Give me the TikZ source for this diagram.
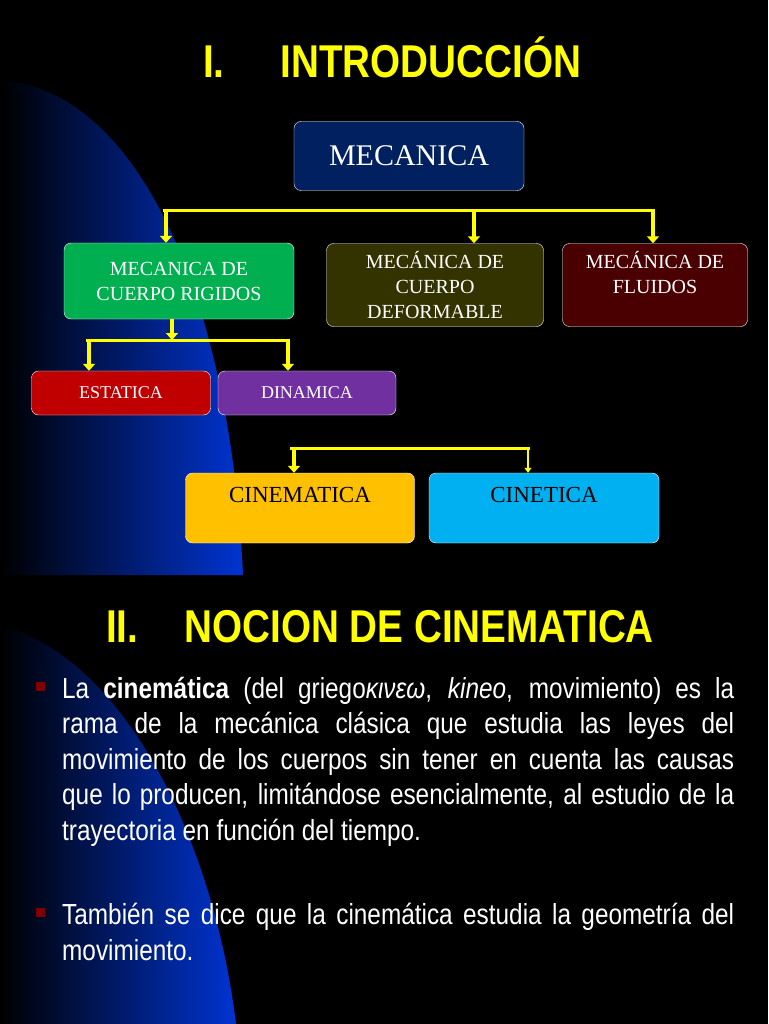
\documentclass[tikz,border=0pt]{standalone}
\usepackage{fontspec}
\setmainfont{Liberation Serif}
\newfontfamily\narrowsans[FakeStretch=0.84]{Liberation Sans}
\usetikzlibrary{arrows.meta,positioning}
\definecolor{titleyellow}{RGB}{255,255,0}
\definecolor{navybox}{RGB}{0,32,96}
\definecolor{greenbox}{RGB}{0,176,80}
\definecolor{olivebox}{RGB}{51,51,0}
\definecolor{maroonbox}{RGB}{74,0,0}
\definecolor{redbox}{RGB}{192,0,0}
\definecolor{purplebox}{RGB}{112,48,160}
\definecolor{goldbox}{RGB}{255,192,0}
\definecolor{cyanbox}{RGB}{0,176,240}
\definecolor{deepblue}{RGB}{0,52,210}
\definecolor{bulletred}{RGB}{128,0,0}
\tikzset{
  caja/.style={draw=white, rounded corners=7pt, text=white, align=center,
    inner sep=2pt, font=\fontsize{20}{25}\selectfont},
  flecha/.style={titleyellow, line width=4pt, -{Triangle[width=12pt,length=7pt]}},
  bus/.style={titleyellow, line width=3pt},
  titulo/.style={text=titleyellow, font=\narrowsans\bfseries\fontsize{46}{50}\selectfont},
  cuerpo/.style={text=white, anchor=north west, text width=672pt, align=justify,
    font=\narrowsans\fontsize{29}{35.5}\selectfont, inner sep=0pt},
  vineta/.style={fill=bulletred, minimum size=9pt, inner sep=0pt}
}
\begin{document}
\hyphenpenalty=10000
\begin{tikzpicture}[x={(1pt,0)},y={(0,-1pt)}]
  % ------ fondo -------------------
  \fill[black] (0,0) rectangle (768,1024);
  \useasboundingbox (0,0) rectangle (768,1024);
  \shade[shading angle=150, left color=black, right color=deepblue]
    (0,80) .. controls (140,90) and (230,300) .. (243,575) -- (0,575) -- cycle;
  \shade[shading angle=150, left color=black, right color=deepblue]
    (0,625) .. controls (130,660) and (215,850) .. (236,1024) -- (0,1024) -- cycle;
  % ------ titulos -------------------
  \node[titulo] (tit1) at (392,57) {I.\hspace{56pt}INTRODUCCIÓN};
  \node[titulo] (tit2) at (380,627) {II.\hspace{46pt}NOCION DE CINEMATICA};
  % ------ cajas -------------------
  \node[caja, fill=navybox, minimum width=230pt, minimum height=69pt,
        font=\fontsize{30}{34}\selectfont] (mec) at (409,156) {MECANICA};
  \node[caja, fill=greenbox, minimum width=230pt, minimum height=76pt] (rig) at (179,281)
    {MECANICA DE\\CUERPO RIGIDOS};
  \node[caja, fill=olivebox, minimum width=217pt, minimum height=83pt] (def) at (435,285)
    {MECÁNICA DE\\CUERPO\\DEFORMABLE};
  \node[caja, fill=maroonbox, minimum width=185pt, minimum height=83pt] (flu) at (655,285)
    {MECÁNICA DE\\FLUIDOS\\\mbox{}};
  \node[caja, fill=redbox, minimum width=179pt, minimum height=44pt,
        font=\fontsize{18}{22}\selectfont] (est) at (121,393) {ESTATICA};
  \node[caja, fill=purplebox, minimum width=178pt, minimum height=44pt,
        font=\fontsize{18}{22}\selectfont] (din) at (307,393) {DINAMICA};
  \node[caja, fill=goldbox, text=black, minimum width=229pt, minimum height=70pt,
        font=\fontsize{23}{27}\selectfont] (cin) at (300,508) {CINEMATICA\\\mbox{}};
  \node[caja, fill=cyanbox, text=black, minimum width=230pt, minimum height=70pt,
        font=\fontsize{23}{27}\selectfont] (cit) at (544,508) {CINETICA\\\mbox{}};
  % ------ conectores -------------------
  \coordinate (b1) at (163,211); \coordinate (b2) at (655,211);
  \coordinate (b3) at (86,340);  \coordinate (b4) at (290,340);
  \coordinate (b5) at (290,448); \coordinate (b6) at (530,448);
  \draw[bus] (b1) -- (b2);
  \draw[flecha] (166,211) -- (rig.north -| 166,0);
  \draw[flecha] (474,211) -- (def.north -| 474,0);
  \draw[flecha] (653,211) -- (flu.north -| 653,0);
  \draw[flecha] (rig.south -| 172,0) -- (172,340);
  \draw[bus] (b3) -- (b4);
  \draw[flecha] (89,340) -- (est.north -| 89,0);
  \draw[flecha] (288,340) -- (din.north -| 288,0);
  \draw[bus] (b5) -- (b6);
  \draw[flecha] (294,448) -- (cin.north -| 294,0);
  \draw[titleyellow, line width=2pt, -{Triangle[width=7pt,length=5pt]}] (528,448) -- (cit.north -| 528,0);
  % ------ texto -------------------
  \node[vineta] (v1) at (40,686) {};
  \node[cuerpo] (p1) at (62,677) {La \textbf{cinemática} (del griego\textit{κινεω}, \textit{kineo}, movimiento) es la\linebreak rama de la mecánica clásica que estudia las leyes del\linebreak movimiento de los cuerpos sin tener en cuenta las causas\linebreak que lo producen, limitándose esencialmente, al estudio de la\linebreak trayectoria en función del tiempo.};
  \node[vineta] (v2) at (40,912) {};
  \node[cuerpo] (p2) at (62,903) {También se dice que la cinemática estudia la geometría del\linebreak movimiento.};
\end{tikzpicture}
\end{document}
